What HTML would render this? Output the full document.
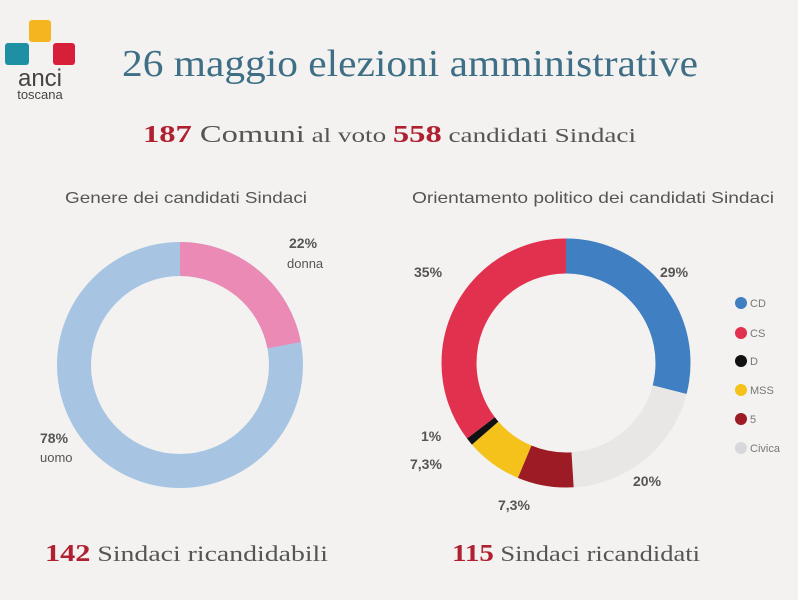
<!DOCTYPE html>
<html><head><meta charset="utf-8"><style>
body{margin:0;width:798px;height:600px;background:#f3f2f0;overflow:hidden;font-family:"Liberation Sans",sans-serif;}
svg{position:absolute;left:0;top:0}
</style></head><body>
<svg width="798" height="600" viewBox="0 0 798 600">
<rect x="0" y="0" width="798" height="600" fill="#f3f2f0"/>
<!-- logo -->
<rect x="29" y="20" width="22" height="22" rx="3" fill="#f5b51e"/>
<rect x="5" y="43" width="24" height="22" rx="3" fill="#1f8fa3"/>
<rect x="53" y="43" width="22" height="22" rx="3" fill="#d81f3a"/>
<text x="40" y="86" font-size="24" fill="#444" text-anchor="middle" font-family="Liberation Sans">anci</text>
<text x="40" y="99" font-size="13" fill="#444" text-anchor="middle">toscana</text>
<text x="122" y="76" font-size="38" fill="#3e6f86" font-family="Liberation Serif" textLength="576" lengthAdjust="spacingAndGlyphs">26 maggio elezioni amministrative</text>
<text x="143" y="142" font-size="24" fill="#555" font-family="Liberation Serif" textLength="493" lengthAdjust="spacingAndGlyphs"><tspan fill="#b02030" font-weight="bold">187</tspan> Comuni<tspan font-size="20"> al voto </tspan><tspan fill="#b02030" font-weight="bold" font-size="24">558</tspan><tspan font-size="20"> candidati Sindaci</tspan></text>
<text x="65" y="203" font-size="16" fill="#555" textLength="242" lengthAdjust="spacingAndGlyphs">Genere dei candidati Sindaci</text>
<text x="412" y="203" font-size="16" fill="#555" textLength="362" lengthAdjust="spacingAndGlyphs">Orientamento politico dei candidati Sindaci</text>
<!-- left donut -->
<g transform="rotate(-90 180 365)">
<circle cx="180" cy="365" r="106" fill="none" stroke="#a7c5e3" stroke-width="34"/>
<circle cx="180" cy="365" r="106" fill="none" stroke="#ec8ab6" stroke-width="34" stroke-dasharray="146.5 1000"/>
</g>
<text x="289" y="248" font-size="14" fill="#555" font-weight="bold">22%</text>
<text x="287" y="268" font-size="13" fill="#555">donna</text>
<text x="40" y="443" font-size="14" fill="#555" font-weight="bold">78%</text>
<text x="40" y="462" font-size="13" fill="#555">uomo</text>
<!-- right donut -->
<g transform="rotate(-90 566 363)" fill="none" stroke-width="35">
<circle cx="566" cy="363" r="107" stroke="#e8e7e6"/>
<circle cx="566" cy="363" r="107" stroke="#3f7fc2" stroke-dasharray="195 1000"/>
<circle cx="566" cy="363" r="107" stroke="#e8e7e6" stroke-dasharray="0 195 134.4 1000"/>
<circle cx="566" cy="363" r="107" stroke="#9c1b25" stroke-dasharray="0 329.4 49.1 1000"/>
<circle cx="566" cy="363" r="107" stroke="#f4c21a" stroke-dasharray="0 378.5 49.1 1000"/>
<circle cx="566" cy="363" r="107" stroke="#111" stroke-dasharray="0 427.6 6.7 1000"/>
<circle cx="566" cy="363" r="107" stroke="#e2304f" stroke-dasharray="0 434.3 238 1000"/>
</g>
<g font-size="14" fill="#555" font-weight="bold">
<text x="414" y="277">35%</text>
<text x="660" y="277">29%</text>
<text x="633" y="486">20%</text>
<text x="498" y="510">7,3%</text>
<text x="410" y="469">7,3%</text>
<text x="421" y="441">1%</text>
</g>
<!-- legend -->
<g font-size="11" fill="#777">
<circle cx="741" cy="303" r="6" fill="#3f7fc2"/><text x="750" y="307">CD</text>
<circle cx="741" cy="333" r="6" fill="#e2304f"/><text x="750" y="337">CS</text>
<circle cx="741" cy="361" r="6" fill="#111"/><text x="750" y="365">D</text>
<circle cx="741" cy="390" r="6" fill="#f4c21a"/><text x="750" y="394">MSS</text>
<circle cx="741" cy="419" r="6" fill="#9c1b25"/><text x="750" y="423">5</text>
<circle cx="741" cy="448" r="6" fill="#d8d8dc"/><text x="750" y="452">Civica</text>
</g>
<text x="45" y="561" font-size="22" fill="#555" font-family="Liberation Serif" textLength="283" lengthAdjust="spacingAndGlyphs"><tspan fill="#b02030" font-weight="bold" font-size="24">142</tspan> Sindaci ricandidabili</text>
<text x="452" y="561" font-size="22" fill="#555" font-family="Liberation Serif" textLength="248" lengthAdjust="spacingAndGlyphs"><tspan fill="#b02030" font-weight="bold" font-size="24">115</tspan> Sindaci ricandidati</text>
</svg>
</body></html>
